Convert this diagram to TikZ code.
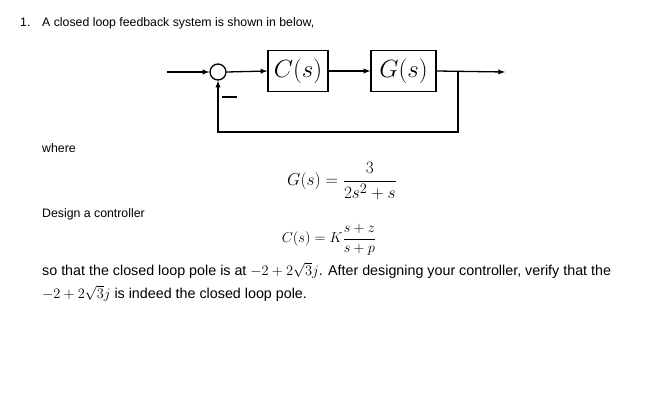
\documentclass[tikz,border=0pt]{standalone}
\usepackage{fontspec}
\setmainfont{Liberation Sans}
\usepackage{amsmath}
\usetikzlibrary{positioning}
\begin{document}
\begin{tikzpicture}[x=1pt, y=-1pt,
    block/.style={draw, line width=1.3pt, minimum width=60pt, minimum height=41pt, font=\fontsize{26}{26}\selectfont},
    sum/.style={draw, circle, line width=1.3pt, minimum size=16pt, inner sep=0pt},
    sig/.style={line width=1.3pt, -latex},
    txt/.style={anchor=base west, font=\fontsize{12.3}{14}\selectfont, inner sep=0pt}]
\useasboundingbox (0,0) rectangle (655,415);

% Header
\node[txt] (num) at (20,26) {1.};
\node[txt] (intro) at (42,26) {A closed loop feedback system is shown in below,};

% Block diagram
\coordinate (in) at (167,72);
\node[sum] (sum) at (218,72) {};
\node[block] (ctrl) at (298,71) {$C(s)$};
\node[block, minimum width=65pt] (plant) at (403.5,71) {$G(s)$};
\coordinate (branch) at (458,72);
\coordinate (out) at (505,72);
\coordinate (fbr) at (458,132);
\coordinate (fbl) at (218,132);
\draw[sig] (in) -- (sum.west);
\draw[sig] (sum.east) -- (ctrl.west);
\draw[sig] (ctrl.east) -- (plant.west);
\draw[sig] (plant.east) -- (out);
\draw[sig] (branch) -- (fbr) -- (fbl) -- (sum.south);
\draw[line width=2pt] (222,97) -- (237,97);

% Text
\node[txt] (where) at (42,152) {where};
\node[font=\fontsize{19}{19}\selectfont] (geq) at (342,181) {$G(s)=\dfrac{3}{2s^2+s}$};
\node[txt] (design) at (42,217) {Design a controller};
\node[font=\fontsize{14.7}{14.7}\selectfont] (ceq) at (329,240) {$C(s)=K\dfrac{s+z}{s+p}$};
\node[txt, font=\fontsize{14.3}{16}\selectfont] (line1) at (42,275) {so that the closed loop pole is at $-2+2\sqrt{3}j$. After designing your controller, verify that the};
\node[txt, font=\fontsize{14.3}{16}\selectfont] (line2) at (42,298) {$-2+2\sqrt{3}j$ is indeed the closed loop pole.};
\end{tikzpicture}
\end{document}
